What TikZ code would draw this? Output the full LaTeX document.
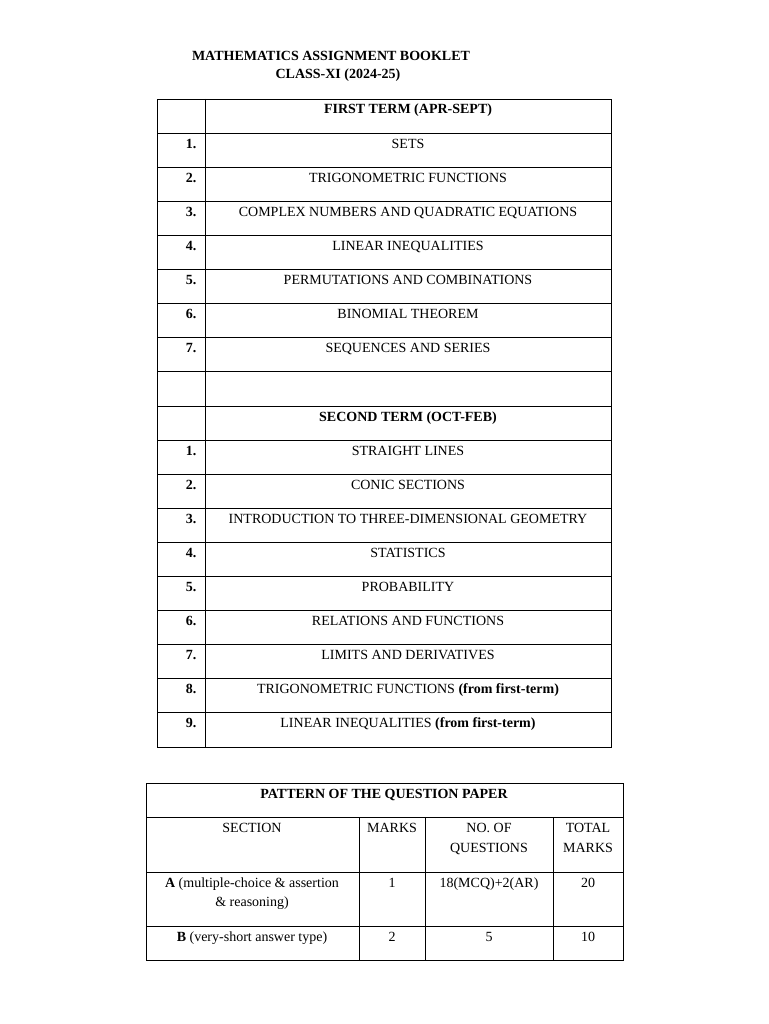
\documentclass[tikz,border=0pt]{standalone}
\usepackage{fontspec}
\setmainfont{Liberation Serif}
\begin{document}
\begin{tikzpicture}[x=1pt,y=-1pt,
  t/.style={anchor=base,inner sep=0pt,font=\fontsize{14}{16}\selectfont},
  ln/.style={line width=0.7pt}]
\useasboundingbox (0,0) rectangle (768,1024);
\node[t,font=\fontsize{14}{16}\selectfont\bfseries] (h1) at (331,61) {MATHEMATICS ASSIGNMENT BOOKLET};
\node[t,font=\fontsize{14}{16}\selectfont\bfseries] (h2) at (338,79) {CLASS-XI (2024-25)};
% top table
\def\rows{99,133.1,167.2,201.3,235.4,269.5,303.6,337.7,371.8,405.9,440,474.1,508.2,542.3,576.4,610.5,644.6,678.7,712.8,747}
\draw[ln] (157,99) rectangle (611,747);
\draw[ln] (205,99) -- (205,747);
\foreach \y in \rows {\draw[ln] (157,\y) -- (611,\y);}
\newcommand\rowtxt[4]{\node[t] (n#1) at (191,#2+15) {#3}; \node[t] (m#1) at (408,#2+15) {#4};}
\node[t,font=\fontsize{14}{16}\selectfont\bfseries] (ft) at (408,114) {FIRST TERM (APR-SEPT)};
\rowtxt{a}{133.1}{\textbf{1.}}{SETS}
\rowtxt{b}{167.2}{\textbf{2.}}{TRIGONOMETRIC FUNCTIONS}
\rowtxt{c}{201.3}{\textbf{3.}}{COMPLEX NUMBERS AND QUADRATIC EQUATIONS}
\rowtxt{d}{235.4}{\textbf{4.}}{LINEAR INEQUALITIES}
\rowtxt{e}{269.5}{\textbf{5.}}{PERMUTATIONS AND COMBINATIONS}
\rowtxt{f}{303.6}{\textbf{6.}}{BINOMIAL THEOREM}
\rowtxt{g}{337.7}{\textbf{7.}}{SEQUENCES AND SERIES}
\node[t,font=\fontsize{14}{16}\selectfont\bfseries] (st) at (408,421) {SECOND TERM (OCT-FEB)};
\rowtxt{h}{440}{\textbf{1.}}{STRAIGHT LINES}
\rowtxt{i}{474.1}{\textbf{2.}}{CONIC SECTIONS}
\rowtxt{j}{508.2}{\textbf{3.}}{INTRODUCTION TO THREE-DIMENSIONAL GEOMETRY}
\rowtxt{k}{542.3}{\textbf{4.}}{STATISTICS}
\rowtxt{l}{576.4}{\textbf{5.}}{PROBABILITY}
\rowtxt{m}{610.5}{\textbf{6.}}{RELATIONS AND FUNCTIONS}
\rowtxt{n}{644.6}{\textbf{7.}}{LIMITS AND DERIVATIVES}
\rowtxt{o}{678.7}{\textbf{8.}}{TRIGONOMETRIC FUNCTIONS \textbf{(from first-term)}}
\rowtxt{p}{712.8}{\textbf{9.}}{LINEAR INEQUALITIES \textbf{(from first-term)}}
% bottom table
\draw[ln] (146,783) rectangle (623,960);
\foreach \y in {817,872,926} {\draw[ln] (146,\y) -- (623,\y);}
\foreach \x in {359,425,553} {\draw[ln] (\x,817) -- (\x,960);}
\node[t,font=\fontsize{14}{16}\selectfont\bfseries] (pt) at (384,798) {PATTERN OF THE QUESTION PAPER};
\begin{scope}[every node/.append style={font=\fontsize{14}{16}\selectfont\bfseries}]
\node[t] (s1) at (252,832) {SECTION};
\node[t] (s2) at (392,832) {MARKS};
\node[t] (s3) at (489,832) {NO. OF};
\node[t] (s3b) at (489,852) {QUESTIONS};
\node[t] (s4) at (588,832) {TOTAL};
\node[t] (s4b) at (588,852) {MARKS};
\end{scope}
\node[t] (a1) at (252,887) {\textbf{A} (multiple-choice \& assertion};
\node[t] (a1b) at (252,906) {\& reasoning)};
\node[t] (a2) at (392,887) {1};
\node[t] (a3) at (489,887) {18(MCQ)+2(AR)};
\node[t] (a4) at (588,887) {20};
\node[t] (b1) at (252,941) {\textbf{B} (very-short answer type)};
\node[t] (b2) at (392,941) {2};
\node[t] (b3) at (489,941) {5};
\node[t] (b4) at (588,941) {10};
\end{tikzpicture}
\end{document}
